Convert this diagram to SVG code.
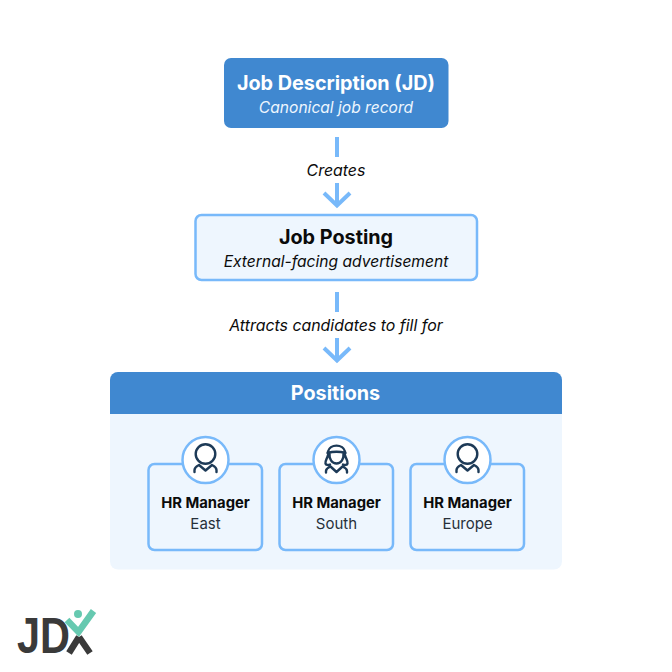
<svg xmlns="http://www.w3.org/2000/svg" width="672" height="672" viewBox="0 0 672 672">
<defs>
<style>
text{font-family:Inter,"Noto Sans","Liberation Sans",sans-serif;text-anchor:middle}
.title{font-size:19.800px;font-weight:700}
.sub{font-size:15.600px;font-style:italic}
.edge{font-size:15.900px;font-style:italic;fill:#0b0b0b}
.conn{fill:none;stroke:#78b9fa;stroke-width:4}
.card{fill:#eef6fe;stroke:#78b9fa;stroke-width:2.5}
.badge{fill:#fff;stroke:#78b9fa;stroke-width:2.5}
.ico{fill:none;stroke:#1d3a57;stroke-width:2.4;stroke-linecap:round;stroke-linejoin:round}
.role{font-size:14.800px;font-weight:700;fill:#0b0b0b}
.place{font-size:15px;fill:#27303a}
</style>
<g id="person">
<circle cx="0" cy="-5" r="9.800" class="ico"/>
<path class="ico" d="M-11 13V11C-11 8-8.500 7-6.500 6L0 11.500 6.500 6C8.500 7 11 8 11 11V13"/>
</g>
</defs>
<rect width="672" height="672" fill="#fff"/>
<g id="connectors">
<path class="conn" d="M337 137V157M337 183V204M324 193 337 205.500 350 193"/>
<path class="conn" d="M337 292V312M337 338V359M324 348 337 360.500 350 348"/>
<text class="edge" x="336" y="175.500">Creates</text>
<text class="edge" x="336" y="330.500">Attracts candidates to fill for</text>
</g>
<g id="job-description">
<rect x="224" y="58" width="224.500" height="70" rx="7" fill="#4088d0"/>
<text class="title" x="336" y="90" fill="#fff">Job Description (JD)</text>
<text class="sub" x="336" y="113" fill="#eef6fe">Canonical job record</text>
</g>
<g id="job-posting">
<rect x="195.500" y="215" width="281.500" height="65" rx="6" fill="#eef6fe" stroke="#78b9fa" stroke-width="2.500"/>
<text class="title" x="336" y="244" fill="#0b0b0b">Job Posting</text>
<text class="sub" x="336" y="267" fill="#0b0b0b">External-facing advertisement</text>
</g>
<g id="positions">
<rect x="110" y="372" width="452" height="197.500" rx="8" fill="#eef6fe"/>
<path d="M110 414V380A8 8 0 0 1 118 372H554A8 8 0 0 1 562 380V414Z" fill="#4088d0"/>
<text class="title" x="335.500" y="400" fill="#fff">Positions</text>
</g>
<g id="hr-east">
<rect class="card" x="148.500" y="464" width="113.500" height="86" rx="6"/>
<circle class="badge" cx="205.500" cy="460" r="23"/>
<use href="#person" x="205.500" y="459"/>
<text class="role" x="205.500" y="508">HR Manager</text>
<text class="place" x="205.500" y="529">East</text>
</g>
<g id="hr-south">
<rect class="card" x="279.500" y="464" width="113.500" height="86" rx="6"/>
<circle class="badge" cx="336.500" cy="460" r="23"/>
<path class="ico" d="M328 452.500V451.500A8.700 7.500 0 0 1 345 451.500V452.500M327.500 453C333 451.500 340 451.500 345.500 453M329.500 453.500C329 459 332 463.500 336.500 463.500S344 459 343.500 453.500M328 455C327 459 325 461 325.500 463.500 326 465 328 465.500 330 464.500M345 455C346 459 348 461 347.500 463.500 347 465 345 465.500 343 464.500M326 472.500V471C326 468.500 328.500 467.500 330.500 466.500L336.500 472 342.500 466.500C344.500 467.500 347 468.500 347 471V472.500"/>
<text class="role" x="336.500" y="508">HR Manager</text>
<text class="place" x="336.500" y="529">South</text>
</g>
<g id="hr-europe">
<rect class="card" x="410.500" y="464" width="113.500" height="86" rx="6"/>
<circle class="badge" cx="467.500" cy="460" r="23"/>
<use href="#person" x="467.500" y="459"/>
<text class="role" x="467.500" y="508">HR Manager</text>
<text class="place" x="467.500" y="529">Europe</text>
</g>
<g id="logo">
<text x="17" y="653" textLength="53" lengthAdjust="spacingAndGlyphs" style="font-family:'Liberation Sans',sans-serif;font-size:50px;font-weight:700;text-anchor:start" fill="#3a3a3a">JD</text>
<path d="M67 620 78.500 632 93.500 611" fill="none" stroke="#66c9b0" stroke-width="6.500"/>
<circle cx="78" cy="614" r="4" fill="#66c9b0"/>
<path d="M79 637 69 653M79 637 90 653" fill="none" stroke="#3a3a3a" stroke-width="6.500"/>
</g>
</svg>
